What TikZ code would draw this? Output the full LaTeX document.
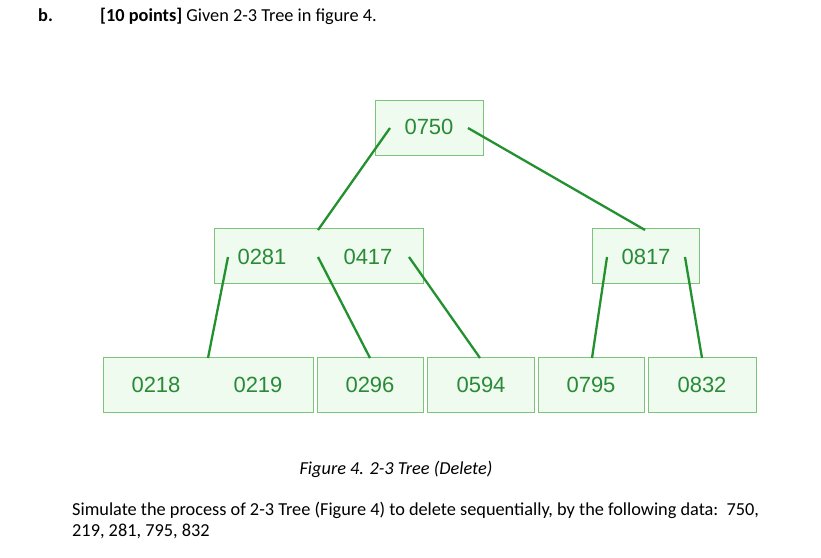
\documentclass[tikz,border=0pt]{standalone}
\usepackage{fontspec}
\setmainfont{Carlito}
\newfontfamily\treefont{Liberation Sans}
\definecolor{bfill}{HTML}{EEFBEE}
\definecolor{bdraw}{HTML}{7CC47C}
\definecolor{lgreen}{HTML}{23912F}
\definecolor{tgreen}{HTML}{2A8A38}
\begin{document}
\begin{tikzpicture}[x=1pt,y=-1pt,
  box/.style={draw=bdraw,fill=bfill,line width=1.4pt,inner sep=0pt,anchor=north west},
  num/.style={text=tgreen,font=\treefont\fontsize{22}{26}\selectfont,inner sep=0pt},
  edge/.style={draw=lgreen,line width=2.3pt},
  txt/.style={font=\fontsize{18.3}{22}\selectfont,inner sep=0pt,anchor=base west}]
\useasboundingbox (0,0) rectangle (821,557);
% boxes
\node[box,minimum width=108,minimum height=55] (root) at (375,100) {};
\node[box,minimum width=209,minimum height=55] (m1) at (214,228) {};
\node[box,minimum width=107,minimum height=55] (m2) at (592,228) {};
\node[box,minimum width=210,minimum height=55] (l1) at (103,357) {};
\node[box,minimum width=106,minimum height=55] (l2) at (317,357) {};
\node[box,minimum width=107,minimum height=55] (l3) at (427,357) {};
\node[box,minimum width=106,minimum height=55] (l4) at (538,357) {};
\node[box,minimum width=108,minimum height=55] (l5) at (648,357) {};
% numbers
\node[num] (t750) at (429,127) {0750};
\node[num] (t281) at (262,257) {0281};
\node[num] (t417) at (368,257) {0417};
\node[num] (t817) at (646,257) {0817};
\node[num] (t218) at (156,385) {0218};
\node[num] (t219) at (258,385) {0219};
\node[num] (t296) at (370,385) {0296};
\node[num] (t594) at (481,385) {0594};
\node[num] (t795) at (591,385) {0795};
\node[num] (t832) at (702,385) {0832};
% connector endpoints
\coordinate (a0) at (390,128); \coordinate (a1) at (318,230);
\coordinate (b0) at (468,128); \coordinate (b1) at (645,230);
\coordinate (c0) at (228,257); \coordinate (c1) at (208,358);
\coordinate (d0) at (318,257); \coordinate (d1) at (370,358);
\coordinate (e0) at (409,257); \coordinate (e1) at (480,358);
\coordinate (f0) at (607,257); \coordinate (f1) at (592,358);
\coordinate (g0) at (685,257); \coordinate (g1) at (702,358);
\draw[edge] (a0) -- (a1);
\draw[edge] (b0) -- (b1);
\draw[edge] (c0) -- (c1);
\draw[edge] (d0) -- (d1);
\draw[edge] (e0) -- (e1);
\draw[edge] (f0) -- (f1);
\draw[edge] (g0) -- (g1);
% texts
\node[txt,font=\bfseries\fontsize{18.3}{22}\selectfont] (hb) at (38,21) {b.};
\node[txt] (head) at (100,21) {\textbf{[10 points]} Given 2-3 Tree in figure 4.};
\node[txt,anchor=base] (cap) at (396,474) {\itshape Figure 4. 2-3 Tree (Delete)};
\node[txt] (p1) at (72,515) {Simulate the process of 2-3 Tree (Figure 4) to delete sequentially, by the following data:\ \ 750,};
\node[txt] (p2) at (72,536) {219, 281, 795, 832};
\end{tikzpicture}
\end{document}
